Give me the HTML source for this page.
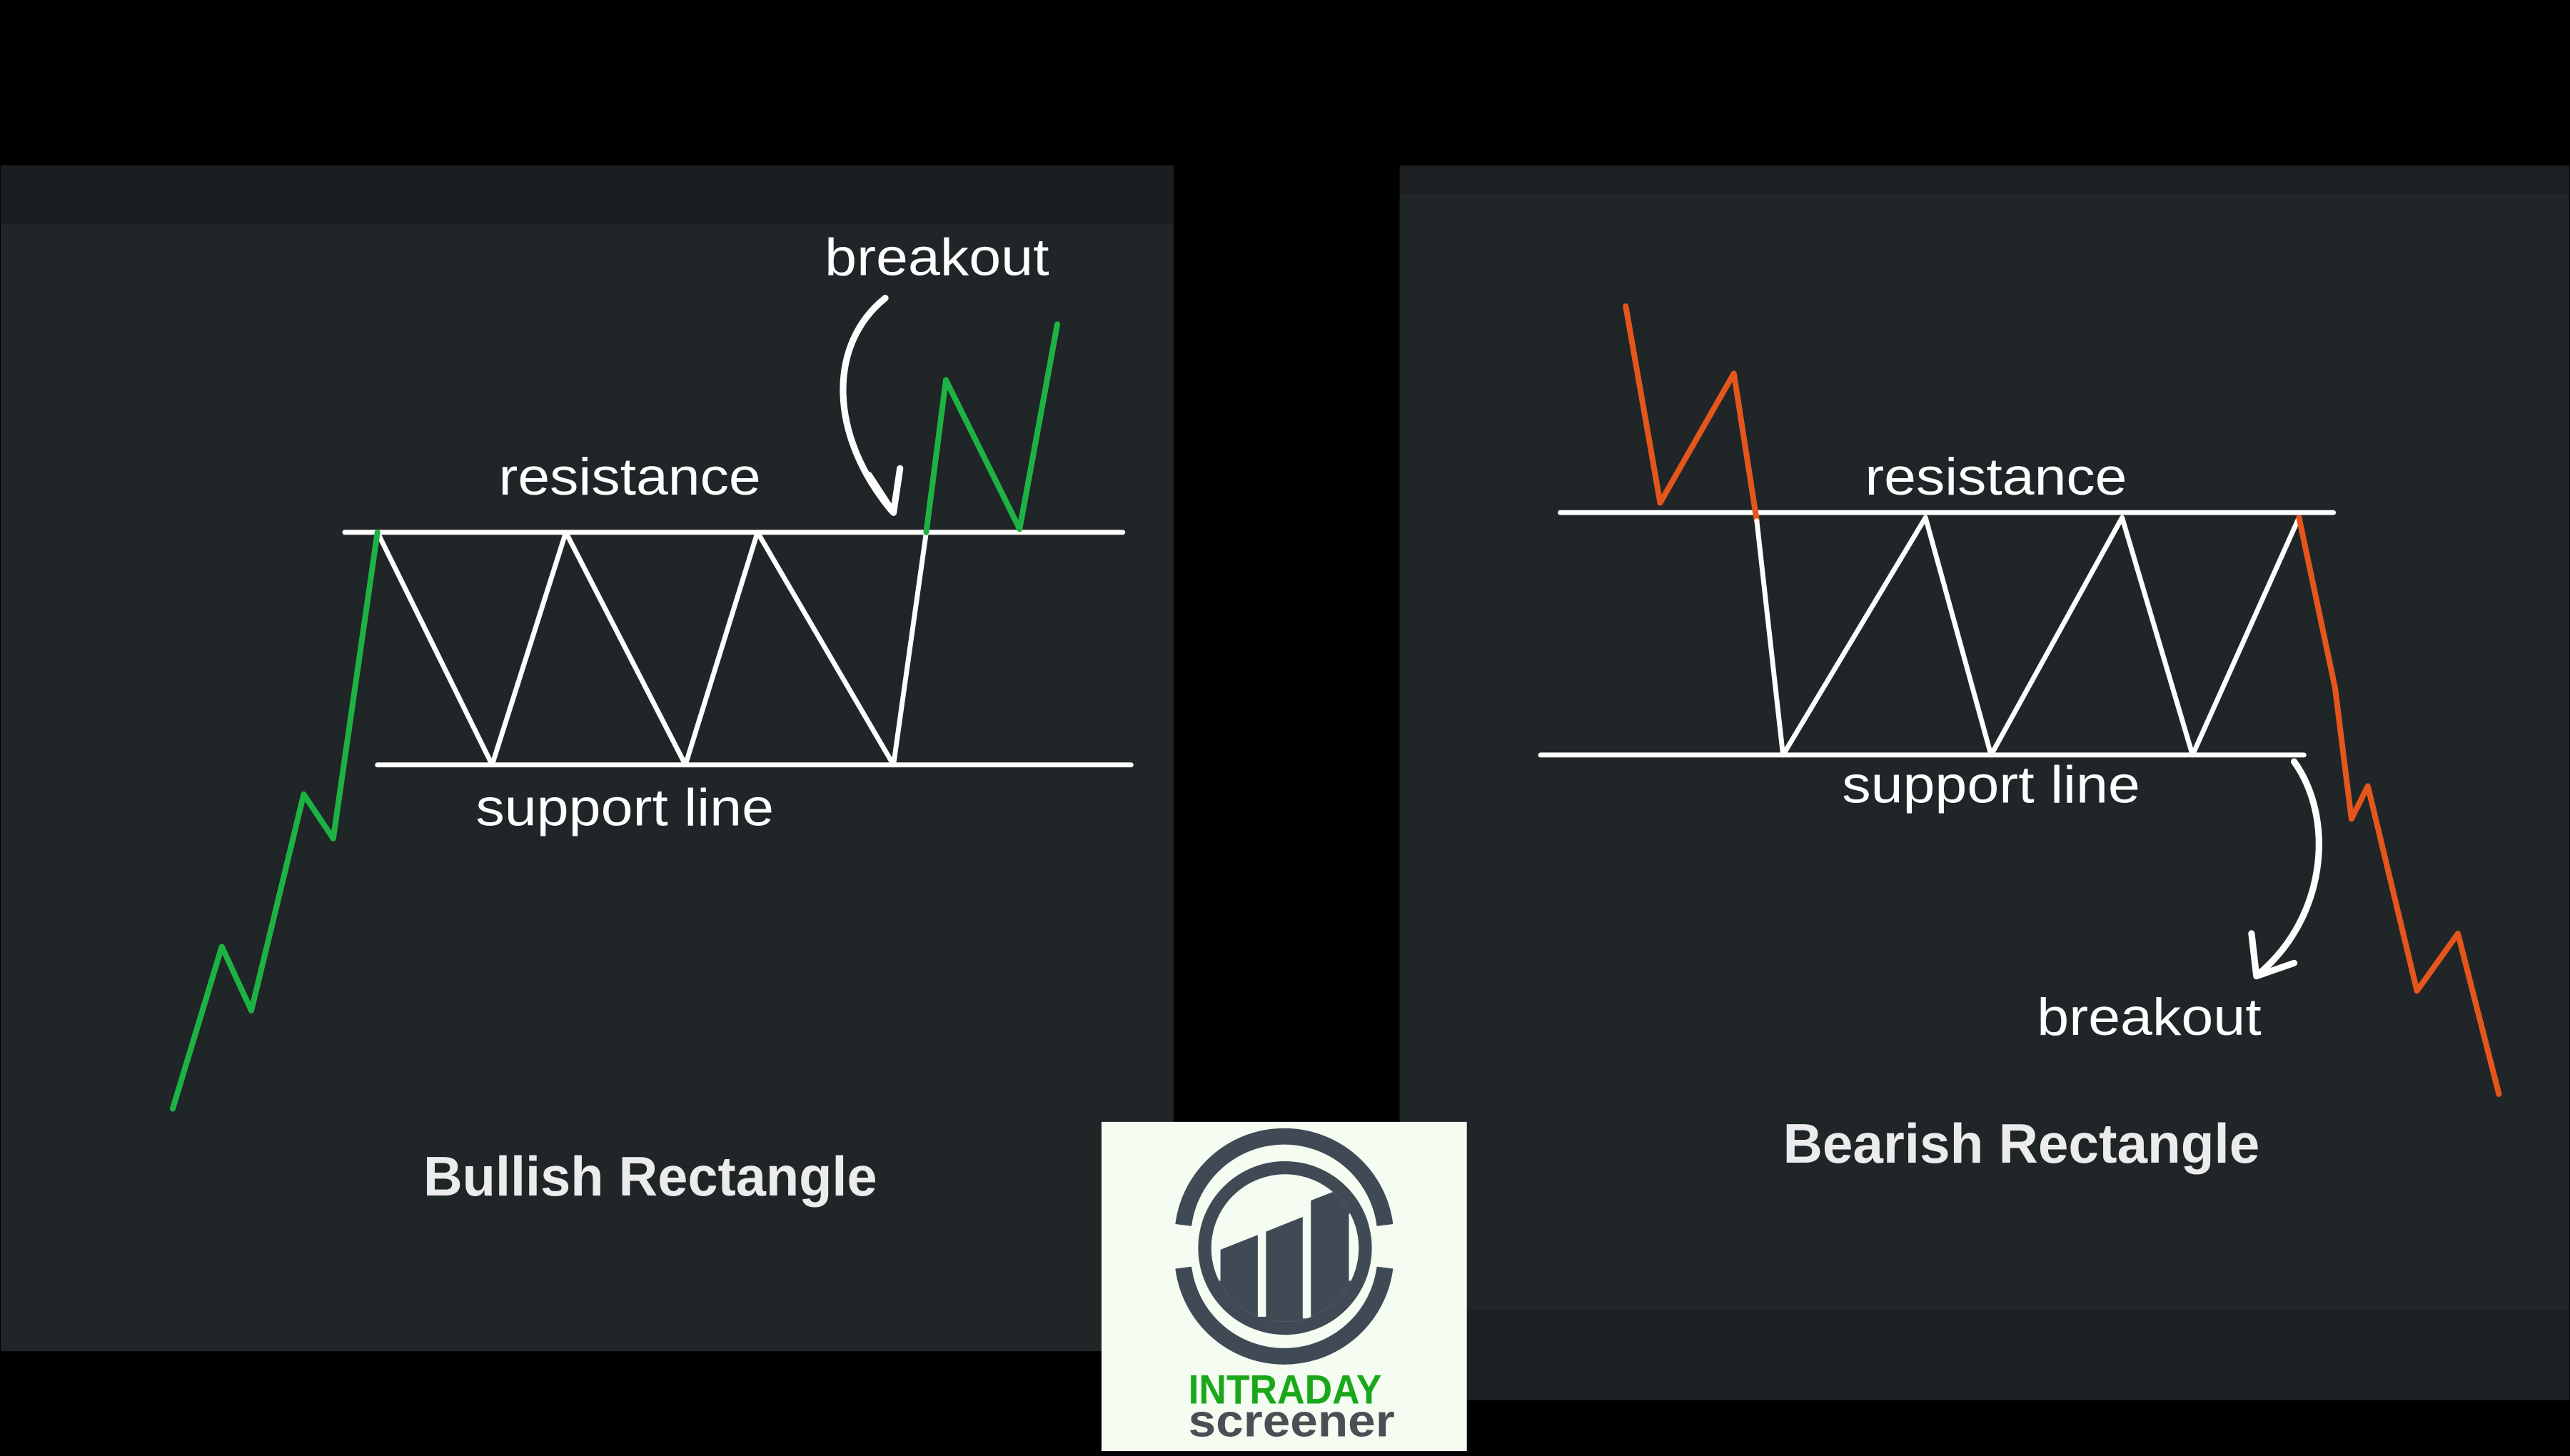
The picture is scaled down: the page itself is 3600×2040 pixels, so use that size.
<!DOCTYPE html>
<html><head><meta charset="utf-8"><style>
html,body{margin:0;padding:0;background:#000;}
svg{display:block;}
text{font-family:"Liberation Sans",sans-serif;}
</style></head><body>
<svg width="3600" height="2040" viewBox="0 0 1568 889" xmlns="http://www.w3.org/2000/svg">
<rect width="1568" height="889" fill="#000"/>
<!-- left panel -->
<rect x="0" y="101" width="716" height="724" fill="#202528"/>
<rect x="0" y="101" width="716" height="36" fill="#1a1e21"/>
<!-- right panel -->
<rect x="854" y="101" width="714" height="754" fill="#1b1f22"/>
<rect x="854" y="118" width="714" height="682" fill="#202528"/>

<g stroke-linecap="round" stroke-linejoin="round" fill="none">
<line x1="210" y1="325" x2="685" y2="325" stroke="#fff" stroke-width="3"/>
<line x1="230" y1="467" x2="690" y2="467" stroke="#fff" stroke-width="3"/>
<polyline points="230,325 300,467 345,325 418,467 462,325 545,467 565,325" stroke="#fff" stroke-width="3"/>
<polyline points="105,677 135,578 153,617 185,485 203,512 230,325" stroke="#1db344" stroke-width="3.5"/>
<polyline points="565,325 577,232 622,323 645,198" stroke="#1db344" stroke-width="3.5"/>
<path d="M540,182 C505,210 505,265 544,312" stroke="#fff" stroke-width="4"/>
<path d="M530,290 L545,313 L549,286" stroke="#fff" stroke-width="4"/>
<line x1="952" y1="313" x2="1424" y2="313" stroke="#fff" stroke-width="3"/>
<line x1="940" y1="461" x2="1406" y2="461" stroke="#fff" stroke-width="3"/>
<polyline points="992,187 1013,307 1058,228 1072,318" stroke="#e4561c" stroke-width="3.5"/>
<polyline points="1072,318 1088,461 1175,316 1215,461 1295,316 1338,461 1403,316" stroke="#fff" stroke-width="3"/>
<polyline points="1403,316 1425,420 1435,500 1445,480 1475,605 1500,570 1525,668" stroke="#e4561c" stroke-width="3.5"/>
<path d="M1400,465 C1425,500 1420,560 1378,595" stroke="#fff" stroke-width="4"/>
<path d="M1374,570 L1377,596 L1400,588" stroke="#fff" stroke-width="4"/>
</g>

<g fill="#fff" font-size="32">
<text x="304" y="302" textLength="160" lengthAdjust="spacingAndGlyphs">resistance</text>
<text x="290" y="504" textLength="182" lengthAdjust="spacingAndGlyphs">support line</text>
<text x="503" y="168" textLength="137" lengthAdjust="spacingAndGlyphs">breakout</text>
<text x="1138" y="302" textLength="160" lengthAdjust="spacingAndGlyphs">resistance</text>
<text x="1124" y="490" textLength="182" lengthAdjust="spacingAndGlyphs">support line</text>
<text x="1243" y="632" textLength="137" lengthAdjust="spacingAndGlyphs">breakout</text>
</g>
<g fill="#ececec" font-size="34" font-weight="bold">
<text x="258" y="730" textLength="277" lengthAdjust="spacingAndGlyphs">Bullish Rectangle</text>
<text x="1088" y="710" textLength="291" lengthAdjust="spacingAndGlyphs">Bearish Rectangle</text>
</g>

<!-- logo -->
<rect x="672" y="685" width="223" height="201" fill="#f5fcf2"/>
<g fill="none" stroke="#3f4a55" stroke-width="10">
<path d="M722,748 A62,62 0 0 1 845,748"/>
<path d="M722,774 A62,62 0 0 0 845,774"/>
</g>
<circle cx="784" cy="762" r="53" fill="#3f4a55"/>
<clipPath id="c"><circle cx="784" cy="762" r="45"/></clipPath>
<g clip-path="url(#c)">
<rect x="700" y="700" width="170" height="130" fill="#f5fcf2"/>
<g fill="#3f4a55">
<polygon points="744.6,763 767.4,754 767.4,900 744.6,900"/>
<polygon points="772.4,752 794.8,743 794.8,900 772.4,900"/>
<polygon points="799.8,733 823,724 823,900 799.8,900"/>
<rect x="700" y="782" width="45" height="120"/>
<rect x="766" y="804" width="8" height="100"/>
<rect x="793" y="805" width="8" height="100"/>
<rect x="822" y="782" width="40" height="120"/>
<rect x="822" y="690" width="40" height="51"/>
</g>
</g>
<text x="725" y="857" font-size="25" font-weight="bold" fill="#1aa81a" textLength="118" lengthAdjust="spacingAndGlyphs">INTRADAY</text>
<text x="725" y="877" font-size="28" font-weight="bold" fill="#4a4f55" textLength="126" lengthAdjust="spacingAndGlyphs">screener</text>
</svg>
</body></html>
